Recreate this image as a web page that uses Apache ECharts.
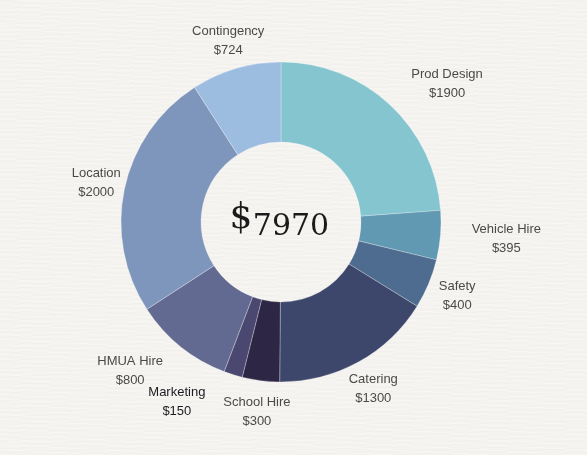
<!DOCTYPE html>
<html>
<head>
<meta charset="utf-8">
<script src="https://cdn.jsdelivr.net/npm/echarts@6/dist/echarts.min.js"></script>
<style>
html,body{margin:0;padding:0;width:587px;height:455px;overflow:hidden;}
body{background:#f5f3ef;background-image:repeating-linear-gradient(178deg,rgba(0,0,0,0.012) 0px,rgba(0,0,0,0.012) 1px,transparent 1px,transparent 4px),repeating-linear-gradient(3deg,rgba(255,255,255,0.3) 0px,rgba(255,255,255,0.3) 1px,transparent 1px,transparent 5px);}
#chart{width:587px;height:455px;}
</style>
</head>
<body>
<div id="chart"></div>
<script>
const categories = ['Prod Design','Vehicle Hire','Safety','Catering','School Hire','Marketing','HMUA Hire','Location','Contingency'];
const values = [1900,395,400,1300,300,150,800,2000,724];
const colors = ['#84c5d0','#6199b3','#4e6c8f','#3d466b','#2e2645','#4a4870','#636a92','#7f96bc','#9dbde0'];
const totalText = '$7970';

// label style nudges (collision offsets, styling only)
const labelStyleByName = {
  'Prod Design': {offset:[36,2]},
  'Vehicle Hire': {offset:[35,1]},
  'Marketing': {offset:[-47,-2], color:'#1c1c22'},
  'HMUA Hire': {offset:[-31,0]},
  'Contingency': {offset:[1,2]},
  'Location': {offset:[2,1]}
};

const chart = echarts.init(document.getElementById('chart'), null, {renderer:'canvas'});
const ringData = categories.map((c,i)=>({name:c, value:values[i], itemStyle:{color:colors[i]}}));
const labelData = categories.map((c,i)=>({
  name:c, value:values[i],
  itemStyle:{color:'rgba(0,0,0,0)'},
  label: Object.assign({show:true}, labelStyleByName[c] || {})
}));
chart.setOption({
  backgroundColor:'transparent',
  animation:false,
  series:[{
    type:'pie',
    center:[281,222],
    radius:[80,160],
    startAngle:90,
    clockwise:true,
    silent:true,
    itemStyle:{borderColor:'rgba(255,255,255,0.55)',borderWidth:0.5},
    label:{show:false},
    labelLine:{show:false},
    data:ringData
  },{
    type:'pie',
    center:[281,222],
    radius:[178,198],
    startAngle:90,
    clockwise:true,
    silent:true,
    avoidLabelOverlap:false,
    minShowLabelAngle:0,
    labelLayout:{hideOverlap:false},
    itemStyle:{borderWidth:0},
    label:{
      show:true,
      position:'inside',
      color:'#4a4a4a',
      fontFamily:'Liberation Sans, Arial, sans-serif',
      fontSize:13,
      lineHeight:19,
      formatter:p=>'{a|'+p.name+'}\n{a|$'+p.value+'}',
      rich:{a:{align:'center',fontSize:13,lineHeight:19,fontFamily:'Liberation Sans, Arial, sans-serif'}}
    },
    labelLine:{show:false},
    data:labelData
  }],
  graphic:[{
    type:'text', x:241, y:219,
    style:{text:totalText.slice(0,1),fontFamily:'DejaVu Serif, serif',fontSize:36,fill:'#1a1a1a',align:'center',verticalAlign:'middle'}
  },{
    type:'text', x:291, y:227,
    style:{text:totalText.slice(1),fontFamily:'DejaVu Serif, serif',fontSize:30,fill:'#1a1a1a',align:'center',verticalAlign:'middle'}
  }]
});
</script>
</body>
</html>
